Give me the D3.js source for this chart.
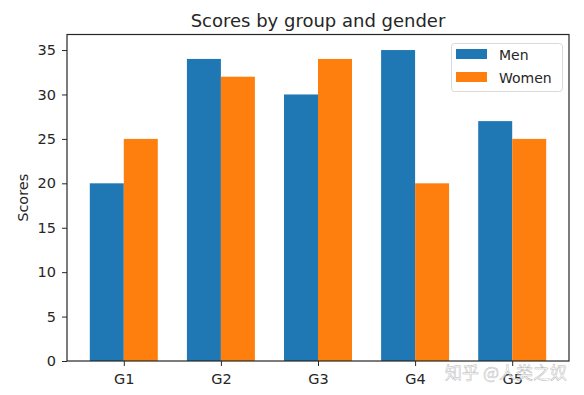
<!DOCTYPE html>
<html><head><meta charset="utf-8">
<script src="https://cdn.jsdelivr.net/npm/d3@7"></script>
<style>body{margin:0;background:#fff}svg{display:block;font-family:"DejaVu Sans",sans-serif}</style>
</head><body>
<svg id="c" width="584" height="395"></svg>
<script>
const categories = ["G1","G2","G3","G4","G5"];
const menScores = [20,34,30,35,27];
const womenScores = [25,32,34,20,25];
const seriesNames = ["Men","Women"];
const yTicks = [0,5,10,15,20,25,30,35];

const svg = d3.select("#c");
const mLeft = 67, mRight = 569, mTop = 34.5, mBottom = 361;
const colors = ["#1f77b4","#ff7f0e"];
const w = 0.35;
const fs = 14.5;
const x = d3.scaleLinear().domain([-0.35 - 0.235, 4.35 + 0.235]).range([mLeft, mRight]);
const y = d3.scaleLinear().domain([0, 36.75]).range([mBottom, mTop]);

const data = [menScores, womenScores];
data.forEach((vals, si) => {
  svg.append("g").selectAll("rect").data(vals).join("rect")
    .attr("x", (d,i) => x(i + (si === 0 ? -w : 0)))
    .attr("width", (d,i) => x(i + w) - x(i))
    .attr("y", d => y(d))
    .attr("height", d => y(0) - y(d))
    .attr("fill", colors[si]);
});

const xAxis = d3.axisBottom(x).tickValues(d3.range(categories.length)).tickFormat(i => categories[i]).tickSize(5).tickPadding(8);
const gx = svg.append("g").attr("transform", `translate(0,${mBottom})`).call(xAxis);
const yAxis = d3.axisLeft(y).tickValues(yTicks).tickSize(5).tickPadding(6);
const gy = svg.append("g").attr("transform", `translate(${mLeft},0)`).call(yAxis);
[gx, gy].forEach(g => {
  g.select(".domain").remove();
  g.selectAll("text").attr("font-size", fs).attr("fill", "#262626").attr("font-family", "DejaVu Sans");
  g.selectAll("line").attr("stroke", "#262626");
});

svg.append("rect").attr("x", mLeft).attr("y", mTop).attr("width", mRight-mLeft).attr("height", mBottom-mTop)
  .attr("fill","none").attr("stroke","#262626").attr("stroke-width",1.2);

svg.append("text").attr("x", (mLeft+mRight)/2).attr("y", 27).attr("text-anchor","middle")
  .attr("font-size", 18).attr("fill","#262626").text("Scores by group and gender");
svg.append("text").attr("transform", `translate(28,${(mTop+mBottom)/2}) rotate(-90)`).attr("text-anchor","middle")
  .attr("font-size", fs).attr("fill","#262626").text("Scores");

const lg = svg.append("g");
lg.append("rect").attr("x", 451.5).attr("y", 43.5).attr("width", 111).attr("height", 48).attr("rx", 3)
  .attr("fill", "#fff").attr("fill-opacity", 0.8).attr("stroke", "#d9d9d9");
seriesNames.forEach((n, i) => {
  lg.append("rect").attr("x", 456).attr("y", 49 + i*23).attr("width", 31).attr("height", 10).attr("fill", colors[i]);
  lg.append("text").attr("x", 499).attr("y", 60 + i*23).attr("font-size", 14).attr("fill","#262626").text(n);
});

svg.append("text").attr("x", 567).attr("y", 379).attr("text-anchor","end")
  .attr("font-family", "'Noto Sans CJK SC'").attr("font-size", 17).attr("fill", "#ffffff").attr("fill-opacity", 0.55)
  .attr("stroke", "#bbbbbb").attr("stroke-width", 0.5).text("知乎 @人类之奴");
</script>
</body></html>
